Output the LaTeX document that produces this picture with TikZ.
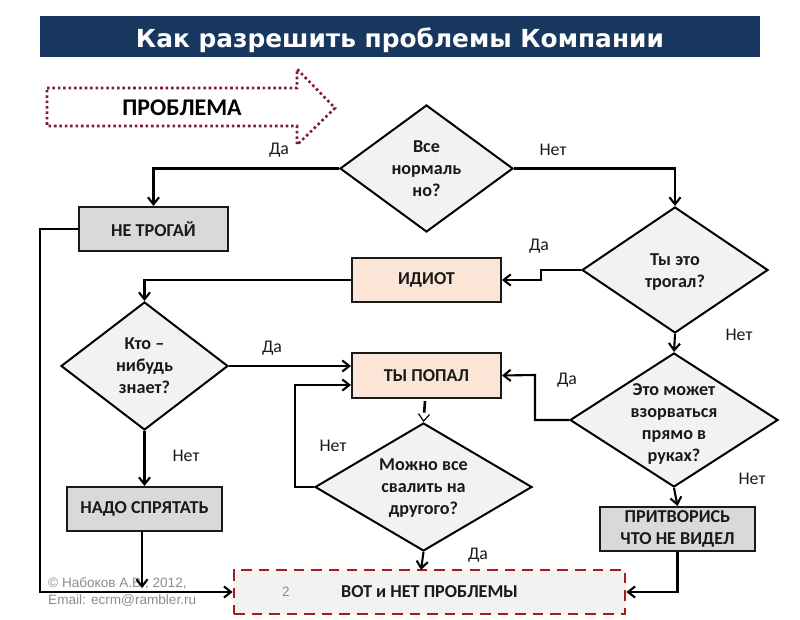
\documentclass[tikz,border=0pt]{standalone}
\usepackage{fontspec}
\setmainfont{Carlito}
\newfontfamily\titlefont{DejaVu Sans}
\newfontfamily\markfont{Liberation Sans}
\usepackage{tikz}
\usetikzlibrary{calc,positioning,arrows,arrows.meta,shapes.geometric}
\definecolor{navy}{HTML}{17375E}
\definecolor{peach}{HTML}{FBE5D6}
\definecolor{lgrey}{HTML}{D9D9D9}
\definecolor{pale}{HTML}{F2F2F2}
\definecolor{wine}{HTML}{7F1D2D}
\definecolor{blood}{HTML}{A51C1C}
\def\px{0.03cm}
\tikzset{
    question/.style={
    diamond,draw=black,fill=pale,line width=1.7pt,inner sep=0pt,aspect=1.35
    },
    qtext/.style={
    align=center,text=black!90,font=\bfseries\fontsize{15.5}{18.8}\selectfont,inner sep=0pt
    },
    action/.style={
    rectangle,draw=black!90,line width=1.7pt,align=center,minimum width=149*\px,minimum height=44*\px,text=black!90,font=\bfseries\fontsize{15.5}{18.8}\selectfont,inner sep=0pt
    },
    grey/.style={action,fill=lgrey},
    warm/.style={action,fill=peach},
    line/.style={draw, line width=1.8pt, -{Straight Barb[length=6pt,width=9.5pt]}},
    answer/.style={text=black!90,font=\fontsize{15.2}{18}\selectfont,inner sep=0pt,yshift=-1pt},
    wmark/.style={text=black!45,font=\markfont\fontsize{11.6}{14.6}\selectfont,align=left,inner sep=0pt},
}
\begin{document}
\begin{tikzpicture}[x=\px,y=-\px]
\useasboundingbox (0,0) rectangle (800,620);

  \node[fill=navy,minimum width=720*\px,minimum height=41*\px,inner sep=0pt,text=white,font=\titlefont\bfseries\fontsize{21.2}{24}\selectfont] (title) at (400,36.5) {\raisebox{-9pt}[0pt][0pt]{Как разрешить проблемы Компании}};

  \draw[wine,line width=2.2pt,dash pattern=on 2.2pt off 2.4pt] (47,88) -- (297,88) -- (297,69) -- (335,108) -- (297,145) -- (297,126) -- (47,126) -- cycle;
  \node[inner sep=0pt,font=\bfseries\fontsize{20.4}{24}\selectfont] (problem) at (182,108) {ПРОБЛЕМА};

  % watermark stays under the arrows
  \node[wmark,anchor=west] (copyr) at (48,592) {© Набоков А.В., 2012,\\Email:  ecrm@rambler.ru};

  \node[question,minimum width=173*\px,minimum height=127*\px,label={[qtext]center:{Все\\нормаль\\но?}}] (normal) at (426.5,168.5) {};
  \node[question,minimum width=186*\px,minimum height=126*\px,label={[qtext,yshift=-2pt]center:{Ты это\\трогал?}}] (touched) at (675,270) {};
  \node[question,minimum width=208*\px,minimum height=134*\px,label={[qtext,yshift=-3.5pt]center:{Это может\\взорваться\\прямо в\\руках?}}] (explode) at (674,420) {};
  \node[question,minimum width=167*\px,minimum height=128*\px,label={[qtext]center:{Кто --\\нибудь\\знает?}}] (knows) at (144.5,366) {};
  \node[question,minimum width=217*\px,minimum height=128*\px,label={[qtext,yshift=-1pt]center:{Можно все\\свалить на\\другого?}}] (blame) at (423.5,487) {};

  \node[grey] (leave) at (153.5,229) {НЕ ТРОГАЙ};
  \node[warm] (idiot) at (426.5,280) {\raisebox{-1.5pt}{ИДИОТ}};
  \node[warm,minimum height=45*\px] (caught) at (426.5,375.5) {ТЫ ПОПАЛ};
  \node[grey,minimum width=155*\px] (hide) at (144.5,509) {\raisebox{-1.5pt}{НАДО СПРЯТАТЬ}};
  \node[grey,minimum width=155*\px] (pretend) at (677.5,529) {ПРИТВОРИСЬ\\ЧТО НЕ ВИДЕЛ};
  \node[action,draw=blood,line width=2.3pt,dash pattern=on 9pt off 6pt,fill=pale,minimum width=391*\px] (noprob) at (429.5,592) {ВОТ и НЕТ ПРОБЛЕМЫ};
  \node[wmark] (pageno) at (286,592) {2};

  \path[line] (normal.west) -| (leave.north);
  \path[line] (normal.east) -| (touched.north);
  \path[line] (touched.west) -- (541,270) -- (541,280) -- (idiot.east);
  \path[line] (touched.south) -- (explode.north);
  \path[line] (explode.west) -- (535,420) -- (535,375) -- (caught.east);
  \path[line] (explode.south) -- (pretend.north);
  \path[line] (pretend.south) |- (noprob.east);
  \path[line] (idiot.west) -| (knows.north);
  \path[line] (knows.east) -- (knows.east -| caught.west);
  \path[line] (knows.south) -- (hide.north);
  \coordinate (hideend) at (142,588);
  \path[line] (142,531) -- (hideend);
  \path[line] (leave.west) -- (40,229) -- (40,592) -- (noprob.west);
  \path[line] (blame.west) -- (295,487) -- (295,385) -- (caught.west |- 295,385);
  \path[line,line width=2.2pt,dash pattern=on 10pt off 20pt,-{Straight Barb[length=6pt,width=9.5pt,line width=1pt]}] (425,401) -- (blame.north);
  \path[line] (blame.south) -- (421,570);

  \node[answer] (a1) at (279,149) {Да};
  \node[answer] (a2) at (553,149) {Нет};
  \node[answer] (a3) at (539,245) {Да};
  \node[answer] (a4) at (739,334) {Нет};
  \node[answer] (a5) at (567,379) {Да};
  \node[answer] (a6) at (752,478) {Нет};
  \node[answer] (a7) at (272,347) {Да};
  \node[answer] (a8) at (186,455) {Нет};
  \node[answer] (a9) at (333,445) {Нет};
  \node[answer] (a10) at (478,554) {Да};
\end{tikzpicture}
\end{document}
